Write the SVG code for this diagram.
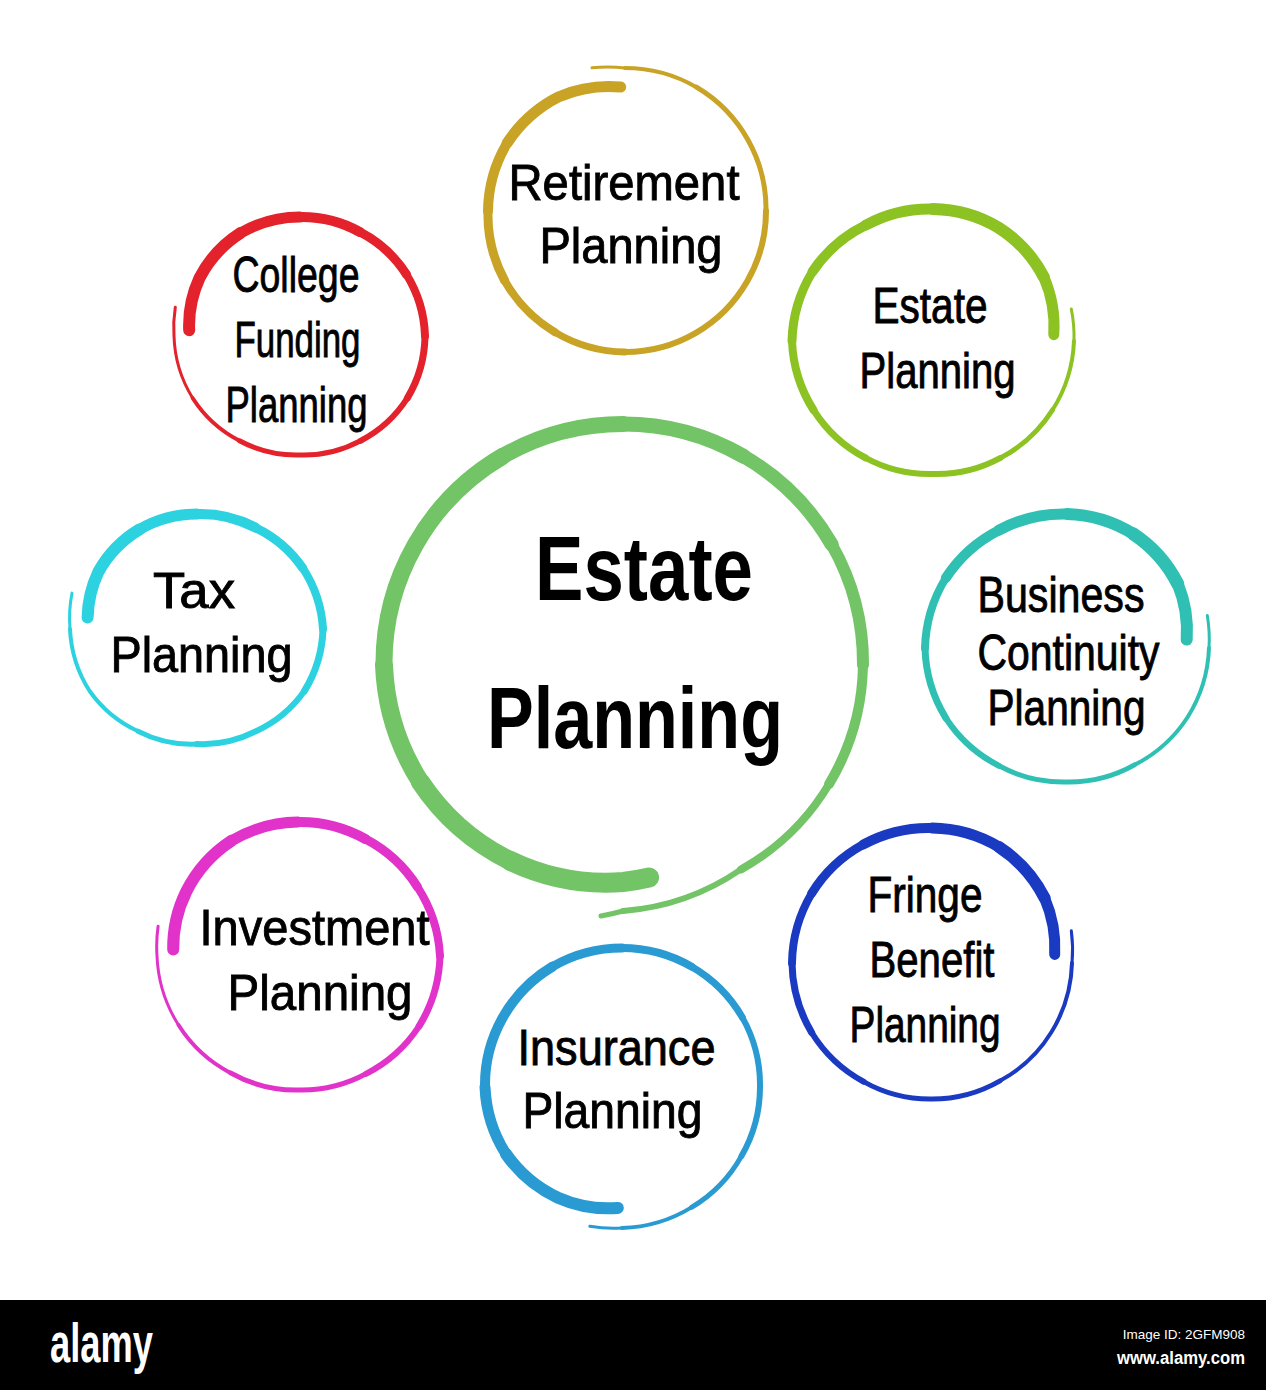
<svg xmlns="http://www.w3.org/2000/svg" width="1266" height="1390" viewBox="0 0 1266 1390">
<style>
.ring path{fill:none;stroke-linecap:round;stroke-linejoin:round}
.lbl{font-family:"Liberation Sans",Arial,sans-serif;font-size:50px;text-anchor:middle;fill:#000;stroke:#000;stroke-width:0.9}
.big{font-family:"Liberation Sans",Arial,sans-serif;font-weight:bold;text-anchor:middle;fill:#000}
.bar{font-family:"Liberation Sans",Arial,sans-serif;fill:#fff}
</style>
<rect x="0" y="0" width="1266" height="1390" fill="#fff"/>
<g id="connectors"></g>
<g id="nodes">
<g id="node-central">
<g class="ring" stroke="#72C466">
<path stroke-width="20" d="M649.1 877.5 A215 215 0 0 1 623 882 A221 221 0 0 1 510 860.7"/>
<path stroke-width="19" d="M510 860.7 A230 230 0 0 1 420.4 782"/>
<path stroke-width="18" d="M420.4 782 A236 236 0 0 1 384 665"/>
<path stroke-width="17" d="M384 665 A240 240 0 0 1 415.2 545 A240 240 0 0 1 502.5 456.3"/>
<path stroke-width="16" d="M502.5 456.3 A241 241 0 0 1 623 424"/>
<path stroke-width="15" d="M623 424 A241 241 0 0 1 743.5 456.3"/>
<path stroke-width="14" d="M743.5 456.3 A241 241 0 0 1 831.7 544.5"/>
<path stroke-width="12" d="M831.7 544.5 A240 240 0 0 1 863 665"/>
<path stroke-width="10" d="M863 665 A239 239 0 0 1 829.1 784"/>
<path stroke-width="8" d="M829.1 784 A237 237 0 0 1 741 869.4"/>
<path stroke-width="6" d="M741 869.4 A241 241 0 0 1 623 911"/>
<path stroke-width="5" d="M623 911 A249 249 0 0 1 601 916"/>
</g>
<text class="big" x="644" y="600" font-size="90" textLength="218" lengthAdjust="spacingAndGlyphs">Estate</text>
<text class="big" x="635" y="748" font-size="88" textLength="296" lengthAdjust="spacingAndGlyphs">Planning</text>
</g>
<g id="node-retirement">
<g class="ring" stroke="#C9A326">
<path stroke-width="3" d="M592 67.8 A145 145 0 0 1 625 68"/>
<path stroke-width="4" d="M625 68 A143 143 0 0 1 696.5 87.2"/>
<path stroke-width="5" d="M696.5 87.2 A142 142 0 0 1 748 140 A141 141 0 0 1 766 211"/>
<path stroke-width="6" d="M766 211 A141 141 0 0 1 747.1 281.5 A141 141 0 0 1 695.5 333.1 A141 141 0 0 1 625 352"/>
<path stroke-width="7" d="M625 352 A140 140 0 0 1 555 332.2"/>
<path stroke-width="8" d="M555 332.2 A139 139 0 0 1 504.6 280.5"/>
<path stroke-width="9" d="M504.6 280.5 A138 138 0 0 1 488 211"/>
<path stroke-width="10" d="M488 211 A136 136 0 0 1 507.2 143"/>
<path stroke-width="11" d="M507.2 143 A134 134 0 0 1 559 96.7 A128 128 0 0 1 620.7 87.1"/>
</g>
<text class="lbl" x="624" y="200" font-size="52" textLength="231" lengthAdjust="spacingAndGlyphs">Retirement</text>
<text class="lbl" x="631" y="263" font-size="52" textLength="183" lengthAdjust="spacingAndGlyphs">Planning</text>
</g>
<g id="node-estate">
<g class="ring" stroke="#8DC223">
<path stroke-width="3" d="M1071.3 309 A141 141 0 0 1 1074 341"/>
<path stroke-width="4" d="M1074 341 A139 139 0 0 1 1052.5 410"/>
<path stroke-width="5" d="M1052.5 410 A136 136 0 0 1 1000.5 457.9"/>
<path stroke-width="6" d="M1000.5 457.9 A134 134 0 0 1 933 474 A134 134 0 0 1 865.5 457.9"/>
<path stroke-width="7" d="M865.5 457.9 A136 136 0 0 1 813.5 410"/>
<path stroke-width="8" d="M813.5 410 A139 139 0 0 1 792 341"/>
<path stroke-width="9" d="M792 341 A140 140 0 0 1 812.6 271.5"/>
<path stroke-width="10" d="M812.6 271.5 A136 136 0 0 1 866 225"/>
<path stroke-width="11" d="M866 225 A133 133 0 0 1 933 209"/>
<path stroke-width="12" d="M933 209 A131 131 0 0 1 998.5 227.6 A129 129 0 0 1 1043.8 277"/>
<path stroke-width="11" d="M1043.8 277 A124 124 0 0 1 1053.8 334.7"/>
</g>
<text class="lbl" x="930" y="323" textLength="115" lengthAdjust="spacingAndGlyphs">Estate</text>
<text class="lbl" x="937.5" y="388" textLength="156" lengthAdjust="spacingAndGlyphs">Planning</text>
</g>
<g id="node-college">
<g class="ring" stroke="#E3222B">
<path stroke-width="12" d="M189.2 330.2 A113 113 0 0 1 199.5 278 A117 117 0 0 1 240.5 233"/>
<path stroke-width="11" d="M240.5 233 A119 119 0 0 1 300 217"/>
<path stroke-width="10" d="M300 217 A119 119 0 0 1 360 232.1"/>
<path stroke-width="9" d="M360 232.1 A121 121 0 0 1 406.5 274.5"/>
<path stroke-width="8" d="M406.5 274.5 A124 124 0 0 1 425 336"/>
<path stroke-width="7" d="M425 336 A124 124 0 0 1 407.4 398"/>
<path stroke-width="6" d="M407.4 398 A122 122 0 0 1 360.5 440.8"/>
<path stroke-width="5" d="M360.5 440.8 A120 120 0 0 1 300 455 A120 120 0 0 1 239.5 440.8"/>
<path stroke-width="4" d="M239.5 440.8 A122 122 0 0 1 192.6 398"/>
<path stroke-width="3" d="M192.6 398 A125 125 0 0 1 174 336 A127 127 0 0 1 175.3 307.2"/>
</g>
<text class="lbl" x="296" y="292" textLength="127" lengthAdjust="spacingAndGlyphs">College</text>
<text class="lbl" x="297.5" y="357" textLength="126" lengthAdjust="spacingAndGlyphs">Funding</text>
<text class="lbl" x="296.5" y="422" textLength="142" lengthAdjust="spacingAndGlyphs">Planning</text>
</g>
<g id="node-tax">
<g class="ring" stroke="#2DD2E0">
<path stroke-width="12" d="M87.6 617.5 A112 112 0 0 1 98.3 572 A114 114 0 0 1 139.5 529.4"/>
<path stroke-width="11" d="M139.5 529.4 A115 115 0 0 1 197 514"/>
<path stroke-width="10" d="M197 514 A116 116 0 0 1 255.5 527.7"/>
<path stroke-width="9" d="M255.5 527.7 A119 119 0 0 1 302.7 568"/>
<path stroke-width="8" d="M302.7 568 A124 124 0 0 1 323 629"/>
<path stroke-width="7" d="M323 629 A125 125 0 0 1 304.4 691"/>
<path stroke-width="6" d="M304.4 691 A121 121 0 0 1 256 731.2 A116 116 0 0 1 197 744"/>
<path stroke-width="5" d="M197 744 A116 116 0 0 1 138 731.2"/>
<path stroke-width="4" d="M138 731.2 A121 121 0 0 1 89.6 691 A125 125 0 0 1 70 629"/>
<path stroke-width="3" d="M70 629 A128 128 0 0 1 72 593.1"/>
</g>
<text class="lbl" x="194" y="608" font-size="52" textLength="82" lengthAdjust="spacingAndGlyphs">Tax</text>
<text class="lbl" x="201.5" y="672" font-size="52" textLength="182" lengthAdjust="spacingAndGlyphs">Planning</text>
</g>
<g id="node-business">
<g class="ring" stroke="#2FC0B3">
<path stroke-width="3" d="M1207.3 615.6 A143 143 0 0 1 1209 648"/>
<path stroke-width="4" d="M1209 648 A140 140 0 0 1 1187.4 717.5 A137 137 0 0 1 1134.5 764.9"/>
<path stroke-width="5" d="M1134.5 764.9 A134 134 0 0 1 1067 782 A135 135 0 0 1 999 765.8"/>
<path stroke-width="6" d="M999 765.8 A138 138 0 0 1 945.8 718"/>
<path stroke-width="7" d="M945.8 718 A141 141 0 0 1 925 648"/>
<path stroke-width="8" d="M925 648 A141 141 0 0 1 945.8 578"/>
<path stroke-width="10" d="M945.8 578 A138 138 0 0 1 999 530.2"/>
<path stroke-width="11" d="M999 530.2 A135 135 0 0 1 1067 514"/>
<path stroke-width="12" d="M1067 514 A133 133 0 0 1 1133 533.7"/>
<path stroke-width="13" d="M1133 533.7 A130 130 0 0 1 1177.8 584"/>
<path stroke-width="12" d="M1177.8 584 A124 124 0 0 1 1186.7 639.6"/>
</g>
<text class="lbl" x="1061" y="612" textLength="167" lengthAdjust="spacingAndGlyphs">Business</text>
<text class="lbl" x="1068.5" y="670" textLength="182" lengthAdjust="spacingAndGlyphs">Continuity</text>
<text class="lbl" x="1066.5" y="725" textLength="158" lengthAdjust="spacingAndGlyphs">Planning</text>
</g>
<g id="node-fringe">
<g class="ring" stroke="#1A3AC2">
<path stroke-width="3" d="M1071.3 930.8 A142 142 0 0 1 1072 963"/>
<path stroke-width="4" d="M1072 963 A139 139 0 0 1 1051.5 1032 A137 137 0 0 1 1000 1080.8"/>
<path stroke-width="5" d="M1000 1080.8 A136 136 0 0 1 932 1099 A136 136 0 0 1 863.5 1081.6"/>
<path stroke-width="6" d="M863.5 1081.6 A138 138 0 0 1 811.6 1032.5"/>
<path stroke-width="7" d="M811.6 1032.5 A140 140 0 0 1 792 963"/>
<path stroke-width="8" d="M792 963 A140 140 0 0 1 811.6 893.5"/>
<path stroke-width="9" d="M811.6 893.5 A138 138 0 0 1 863.5 844.4"/>
<path stroke-width="10" d="M863.5 844.4 A136 136 0 0 1 932 828"/>
<path stroke-width="11" d="M932 828 A134 134 0 0 1 999 847"/>
<path stroke-width="12" d="M999 847 A132 132 0 0 1 1044.6 898"/>
<path stroke-width="11" d="M1044.6 898 A126 126 0 0 1 1054.7 954.4"/>
</g>
<text class="lbl" x="925" y="912" textLength="115" lengthAdjust="spacingAndGlyphs">Fringe</text>
<text class="lbl" x="932" y="977" textLength="125" lengthAdjust="spacingAndGlyphs">Benefit</text>
<text class="lbl" x="925" y="1042" textLength="151" lengthAdjust="spacingAndGlyphs">Planning</text>
</g>
<g id="node-insurance">
<g class="ring" stroke="#2A9AD2">
<path stroke-width="12" d="M617.8 1207.9 A124 124 0 0 1 558 1197.8 A131 131 0 0 1 506 1154"/>
<path stroke-width="11" d="M506 1154 A135 135 0 0 1 485 1087"/>
<path stroke-width="10" d="M485 1087 A137 137 0 0 1 502.5 1018 A138 138 0 0 1 552.5 966.6"/>
<path stroke-width="9" d="M552.5 966.6 A139 139 0 0 1 622 948"/>
<path stroke-width="8" d="M622 948 A139 139 0 0 1 691.5 966.6"/>
<path stroke-width="7" d="M691.5 966.6 A139 139 0 0 1 742.4 1017.5"/>
<path stroke-width="6" d="M742.4 1017.5 A138 138 0 0 1 760 1087 A138 138 0 0 1 741.5 1156"/>
<path stroke-width="5" d="M741.5 1156 A138 138 0 0 1 691.5 1207.4"/>
<path stroke-width="4" d="M691.5 1207.4 A140 140 0 0 1 622 1228"/>
<path stroke-width="3" d="M622 1228 A142 142 0 0 1 589.8 1226.3"/>
</g>
<text class="lbl" x="616.5" y="1065" textLength="198" lengthAdjust="spacingAndGlyphs">Insurance</text>
<text class="lbl" x="612.5" y="1128" textLength="180" lengthAdjust="spacingAndGlyphs">Planning</text>
</g>
<g id="node-investment">
<g class="ring" stroke="#E132CA">
<path stroke-width="12" d="M173.2 949.5 A127 127 0 0 1 186.3 891.5 A131 131 0 0 1 231.5 840.8"/>
<path stroke-width="11" d="M231.5 840.8 A133 133 0 0 1 298 822"/>
<path stroke-width="10" d="M298 822 A134 134 0 0 1 365.5 839.1"/>
<path stroke-width="9" d="M365.5 839.1 A136 136 0 0 1 417.5 887"/>
<path stroke-width="8" d="M417.5 887 A140 140 0 0 1 440 956"/>
<path stroke-width="7" d="M440 956 A141 141 0 0 1 419.2 1026"/>
<path stroke-width="6" d="M419.2 1026 A138 138 0 0 1 366 1073.8"/>
<path stroke-width="5" d="M366 1073.8 A135 135 0 0 1 298 1090 A134 134 0 0 1 230.5 1072.9"/>
<path stroke-width="4" d="M230.5 1072.9 A136 136 0 0 1 178.5 1025"/>
<path stroke-width="3" d="M178.5 1025 A139 139 0 0 1 157 956 A142 142 0 0 1 158.1 926.3"/>
</g>
<text class="lbl" x="314.5" y="945" textLength="230" lengthAdjust="spacingAndGlyphs">Investment</text>
<text class="lbl" x="320" y="1010" textLength="185" lengthAdjust="spacingAndGlyphs">Planning</text>
</g>
</g>
<g id="stock-bar">
<rect x="0" y="1300" width="1266" height="90" fill="#000"/>
<text class="bar" x="50" y="1362" font-size="56" font-weight="bold" textLength="103" lengthAdjust="spacingAndGlyphs">alamy</text>
<text class="bar" x="1245" y="1339" font-size="13.5" text-anchor="end" fill="#e6e6e6">Image ID: 2GFM908</text>
<text class="bar" x="1245" y="1364" font-size="18" font-weight="bold" text-anchor="end" textLength="128" lengthAdjust="spacingAndGlyphs">www.alamy.com</text>
</g>
</svg>
